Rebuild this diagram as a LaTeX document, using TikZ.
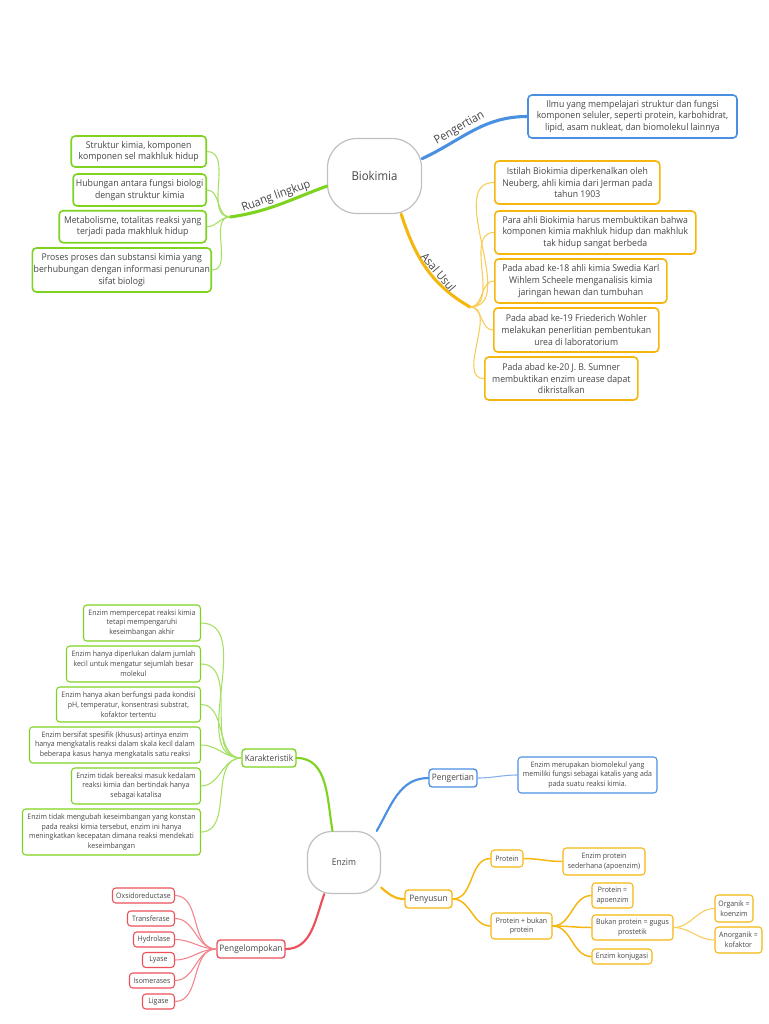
\documentclass[tikz,border=0pt]{standalone}
\usepackage{fontspec}
\newfontfamily\mapfont{Open Sans}[FakeStretch=0.93]
\usepackage{xcolor}
\usepackage{tikz}

\definecolor{mapgreen}{RGB}{126,211,33}
\definecolor{mapblue}{RGB}{74,144,226}
\definecolor{mapyellow}{RGB}{245,183,15}
\definecolor{mapred}{RGB}{236,80,90}
\definecolor{mapgray}{RGB}{192,192,192}
\definecolor{maptext}{RGB}{70,70,70}

\newcommand\centretxt{\mapfont\fontsize{9.2}{11}\selectfont}
\newcommand\enztxt{\mapfont\fontsize{6.9}{8}\selectfont}
\newcommand\branchtxt{\mapfont\fontsize{8.8}{10}\selectfont}
\newcommand\toptxt{\mapfont\fontsize{7}{8.8}\selectfont}
\newcommand\midtxt{\mapfont\fontsize{6.7}{8}\selectfont}
\newcommand\smalltxt{\mapfont\fontsize{5.6}{7.4}\selectfont}

\begin{document}
\begin{tikzpicture}[x=0.75pt, y=-0.75pt,
    every node/.style={align=center, text=maptext, inner sep=1pt},
    centre/.style={draw=mapgray, fill=white, line width=0.9pt, rounded corners=#1},
    leaf/.style={draw=#1, fill=white, rounded corners=3pt, line width=1.2pt, font=\toptxt},
    small/.style={draw=#1, fill=white, rounded corners=2.5pt, line width=0.8pt, font=\smalltxt},
    mid/.style={draw=#1, fill=white, rounded corners=2.5pt, line width=1pt, font=\midtxt},
    wh/.style 2 args={minimum width=#1*0.75pt, minimum height=#2*0.75pt},
    trunk/.style={draw=#1, line width=2.3pt, line cap=round},
    branch/.style={draw=#1, line width=1.6pt, line cap=round},
    twig/.style={draw=#1!70, line width=0.8pt},
    stem/.style={draw=#1, line width=1.1pt}
]
\useasboundingbox[fill=white] (0,0) rectangle (768,1024);

% ---- Biokimia ----
\node[centre=22pt, wh={94}{75}, font=\centretxt] (bio) at (374.5,176) {Biokimia};

\node[leaf=mapblue, wh={209}{43}] (pgt) at (632.5,116.5) {Ilmu yang mempelajari struktur dan fungsi\\komponen seluler, seperti protein, karbohidrat,\\lipid, asam nukleat, dan biomolekul lainnya};

\node[leaf=mapgreen, wh={135}{31}, anchor=east] (rl1) at (207,151.5) {Struktur kimia, komponen\\komponen sel makhluk hidup};
\node[leaf=mapgreen, wh={133}{32}, anchor=east] (rl2) at (207,190) {Hubungan antara fungsi biologi\\dengan struktur kimia};
\node[leaf=mapgreen, wh={147}{32}, anchor=east] (rl3) at (207,226.7) {Metabolisme, totalitas reaksi yang\\terjadi pada makhluk hidup};
\node[leaf=mapgreen, wh={177}{44}, anchor=east] (rl4) at (212,270) {Proses proses dan substansi kimia yang\\berhubungan dengan informasi penurunan\\sifat biologi};
\coordinate (rlj) at (230,217);

\node[leaf=mapyellow, wh={165}{43}, anchor=west] (au1) at (494,182.5) {Istilah Biokimia diperkenalkan oleh\\Neuberg, ahli kimia dari Jerman pada\\tahun 1903};
\node[leaf=mapyellow, wh={201}{43}, anchor=west] (au2) at (494,232.5) {Para ahli Biokimia harus membuktikan bahwa\\komponen kimia makhluk hidup dan makhluk\\tak hidup sangat berbeda};
\node[leaf=mapyellow, wh={172}{44}, anchor=west] (au3) at (494,281) {Pada abad ke-18 ahli kimia Swedia Karl\\Wihlem Scheele menganalisis kimia\\jaringan hewan dan tumbuhan};
\node[leaf=mapyellow, wh={165}{44}, anchor=west] (au4) at (493,330) {Pada abad ke-19 Friederich Wohler\\melakukan penerlitian pembentukan\\urea di laboratorium};
\node[leaf=mapyellow, wh={153}{43}, anchor=west] (au5) at (484,378.5) {Pada abad ke-20 J. B. Sumner\\membuktikan enzim urease dapat\\dikristalkan};
\coordinate (auj) at (470,307);

\draw[trunk=mapblue] (bio.20) to[out=25, in=180] node[sloped, above, pos=0.4, font=\branchtxt] {Pengertian} (pgt.west);
\draw[trunk=mapgreen] (rlj) to[out=8, in=200] node[sloped, above, pos=0.5, font=\branchtxt] {Ruang lingkup} (bio.192);
\draw[trunk=mapyellow] (bio.-55) to[out=-72, in=150] node[sloped, above, pos=0.6, font=\branchtxt] {Asal Usul} (auj);
\foreach \n in {rl1,rl2,rl3,rl4}
    \draw[twig=mapgreen] (rlj) to[out=180, in=0] (\n.east);
\foreach \n in {au1,au2,au3,au4,au5}
    \draw[twig=mapyellow] (auj) to[out=0, in=180] (\n.west);

% ---- Enzim ----
\node[centre=18pt, wh={73}{62}, font=\enztxt] (enz) at (344,862.5) {Enzim};

\node[mid=mapblue, wh={48}{18}] (pen) at (453,778) {Pengertian};
\node[small=mapblue, wh={139}{36}] (def) at (587.5,775) {Enzim merupakan biomolekul yang\\memiliki fungsi sebagai katalis yang ada\\pada suatu reaksi kimia.};

\node[mid=mapgreen, wh={54}{18}] (kar) at (269,758) {Karakteristik};
\node[small=mapgreen, wh={117}{36}, anchor=east] (k1) at (201,623) {Enzim mempercepat reaksi kimia\\tetapi mempengaruhi\\keseimbangan akhir};
\node[small=mapgreen, wh={134}{36}, anchor=east] (k2) at (201,664) {Enzim hanya diperlukan dalam jumlah\\kecil untuk mengatur sejumlah besar\\molekul};
\node[small=mapgreen, wh={144}{35}, anchor=east] (k3) at (201,704.5) {Enzim hanya akan berfungsi pada kondisi\\pH, temperatur, konsentrasi substrat,\\kofaktor tertentu};
\node[small=mapgreen, wh={171}{36}, anchor=east] (k4) at (201,745) {Enzim bersifat spesifik (khusus) artinya enzim\\hanya mengkatalis reaksi dalam skala kecil dalam\\beberapa kasus hanya mengkatalis satu reaksi};
\node[small=mapgreen, wh={129}{36}, anchor=east] (k5) at (201,786) {Enzim tidak bereaksi masuk kedalam\\reaksi kimia dan bertindak hanya\\sebagai katalisa};
\node[small=mapgreen, wh={178}{46}, anchor=east] (k6) at (201,832) {Enzim tidak mengubah keseimbangan yang konstan\\pada reaksi kimia tersebut, enzim ini hanya\\meningkatkan kecepatan dimana reaksi mendekati\\keseimbangan};

\node[mid=mapred, wh={68}{18}] (pgk) at (251,949) {Pengelompokan};
\node[small=mapred, wh={62}{15}, anchor=east] (e1) at (175,895.5) {Oxsidoreductase};
\node[small=mapred, wh={47}{15}, anchor=east] (e2) at (175,918.5) {Transferase};
\node[small=mapred, wh={41}{15}, anchor=east] (e3) at (175,939.5) {Hydrolase};
\node[small=mapred, wh={32}{15}, anchor=east] (e4) at (175,960) {Lyase};
\node[small=mapred, wh={45}{15}, anchor=east] (e5) at (175,980.5) {Isomerases};
\node[small=mapred, wh={32}{15}, anchor=east] (e6) at (175,1001.5) {Ligase};

\node[mid=mapyellow, wh={47}{18}] (pny) at (428.5,899) {Penyusun};
\node[small=mapyellow, wh={32}{17}] (pr) at (507,858.5) {Protein};
\node[small=mapyellow, wh={82}{27}] (eps) at (604,861.5) {Enzim protein\\sederhana (apoenzim)};
\node[small=mapyellow, wh={61}{26}] (pbp) at (521.5,926) {Protein + bukan\\protein};
\node[small=mapyellow, wh={41}{25}] (pa) at (612.5,895.5) {Protein =\\apoenzim};
\node[small=mapyellow, wh={81}{25}] (bpg) at (632.5,927.5) {Bukan protein = gugus\\prostetik};
\node[small=mapyellow, wh={60}{15}] (ek) at (622,956.5) {Enzim konjugasi};
\node[small=mapyellow, wh={38}{27}] (ok) at (734,908.5) {Organik =\\koenzim};
\node[small=mapyellow, wh={47}{26}] (ak) at (738.5,940) {Anorganik =\\kofaktor};

\draw[branch=mapblue] (enz.44) to[out=60, in=180] (pen.west);
\draw[twig=mapblue] (pen.east) to[out=0, in=180] (def.west);
\draw[branch=mapgreen] (enz.110) to[out=100, in=0] (kar.east);
\foreach \n in {k1,k2,k3,k4,k5,k6}
    \draw[twig=mapgreen] (kar.west) to[out=180, in=0] (\n.east);
\draw[branch=mapred] (enz.238) to[out=250, in=0] (pgk.east);
\foreach \n in {e1,e2,e3,e4,e5,e6}
    \draw[twig=mapred] (pgk.west) to[out=180, in=0] (\n.east);
\draw[branch=mapyellow] (enz.-34) to[out=-40, in=180] (pny.west);
\draw[stem=mapyellow] (pny.east) to[out=0, in=180] (pr.west);
\draw[stem=mapyellow] (pny.east) to[out=0, in=180] (pbp.west);
\draw[stem=mapyellow] (pr.east) to[out=0, in=180] (eps.west);
\foreach \n in {pa,bpg,ek}
    \draw[stem=mapyellow] (pbp.east) to[out=0, in=180] (\n.west);
\foreach \n in {ok,ak}
    \draw[twig=mapyellow] (bpg.east) to[out=0, in=180] (\n.west);
\end{tikzpicture}
\end{document}
